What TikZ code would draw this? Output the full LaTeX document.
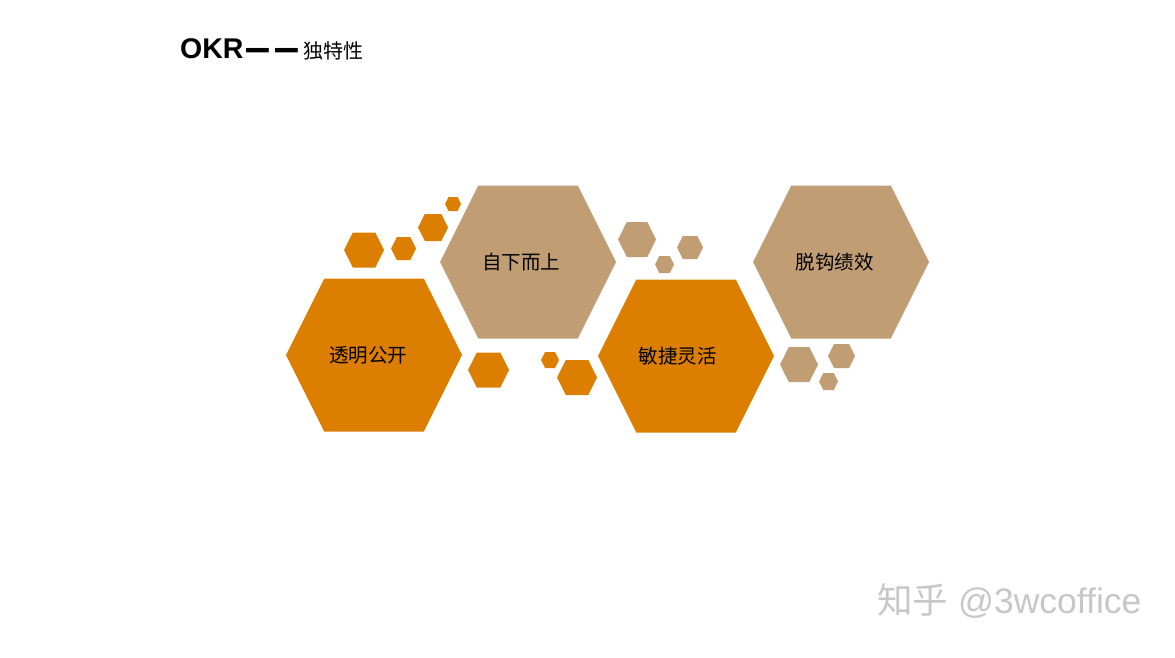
\documentclass[tikz,border=0pt]{standalone}
\usepackage{fontspec}
\setmainfont{Liberation Sans}
\newfontfamily\cjk{Noto Sans CJK SC}

\definecolor{okrorange}{HTML}{DC7F00}
\definecolor{okrtan}{HTML}{C19D74}

\tikzset{
  pics/hexa/.style args={#1/#2}{code={
    \path[pic actions] (-#1/2,0) -- (-#1/2+#2/4,-#2/2) -- (#1/2-#2/4,-#2/2)
      -- (#1/2,0) -- (#1/2-#2/4,#2/2) -- (-#1/2+#2/4,#2/2) -- cycle;}},
}
\newcommand{\okrdash}{\raisebox{-3.8pt}{\scalebox{0.8}[1.55]{—}}}

\begin{document}
\begin{tikzpicture}[x=1pt, y=-1pt,
    orange hex/.style={fill=okrorange},
    tan hex/.style={fill=okrtan},
    hex label/.style={font=\cjk\fontsize{19.5}{20}\selectfont, text=black, inner sep=0pt}]

\useasboundingbox (0,0) rectangle (1175,657);

\node[anchor=base west, inner sep=0pt] (title) at (180,58.3)
  {\fontsize{28.5}{30}\selectfont\bfseries OKR\kern3pt\okrdash\kern6.5pt\okrdash\kern5pt{\cjk\mdseries\fontsize{20}{20}\selectfont 独特性}};

\pic[orange hex] at (374,355) {hexa=176/153};
\pic[tan hex] at (528,262) {hexa=176/153};
\pic[orange hex] at (686,356) {hexa=176/153};
\pic[tan hex] at (841,262) {hexa=176/153};

\foreach \x/\y/\w/\h in {364/250/40/35, 403.5/248.5/25/23, 433/227.5/30/27, 453/204/16/14,
    488.5/370/41/35, 550/360/18/16, 577/377.5/40/35}
  \pic[orange hex] at (\x,\y) {hexa=\w/\h};

\foreach \x/\y/\w/\h in {637/239.5/38/35, 690/247.5/26/23, 664.5/264.5/19/17,
    799/364.5/38/35, 841.5/356/27/24, 828.5/381.5/19/17}
  \pic[tan hex] at (\x,\y) {hexa=\w/\h};

\node[hex label] (tmgk) at (368,355) {透明公开};
\node[hex label] (zxes) at (521,262) {自下而上};
\node[hex label] (mjlh) at (677.5,356) {敏捷灵活};
\node[hex label] (tgjx) at (834.5,262) {脱钩绩效};

\node[anchor=base west, inner sep=0pt, text=black!22, font=\fontsize{35.5}{36}\selectfont]
  (mark) at (877,613) {{\cjk 知乎} @3wcoffice};

\end{tikzpicture}
\end{document}
